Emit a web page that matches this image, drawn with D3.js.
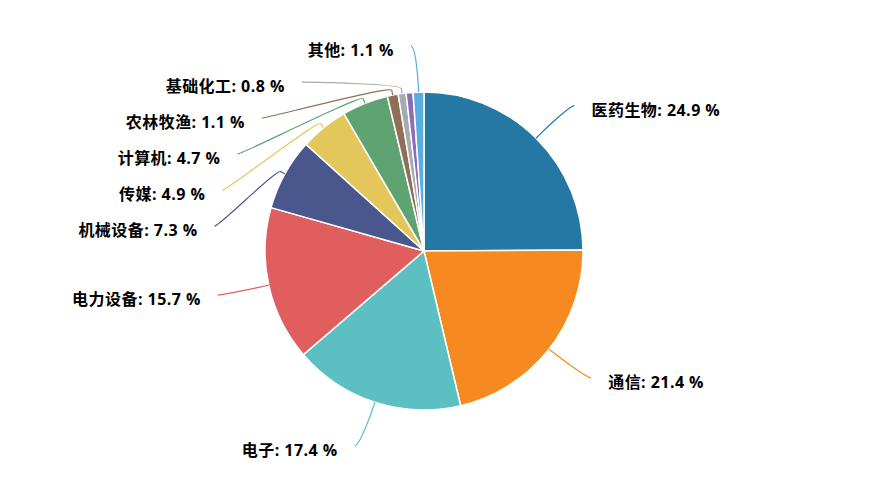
<!DOCTYPE html>
<html>
<head>
<meta charset="utf-8">
<script src="https://cdn.jsdelivr.net/npm/d3@7"></script>
<style>
  html, body { margin: 0; padding: 0; background: #fff; }
  svg { display: block; }
</style>
</head>
<body>
<svg id="chart" width="885" height="480"></svg>
<script>
// ---- data ----
const categories = ["医药生物", "通信", "电子", "电力设备", "机械设备", "传媒", "计算机", "农林牧渔", "基础化工", "未标注", "其他"];
const values     = [24.9, 21.4, 17.4, 15.7, 7.3, 4.9, 4.7, 1.1, 0.8, 0.7, 1.1];
const colors     = ["#2577a4", "#f6891f", "#5cbfc1", "#e05e5e", "#4a578c", "#e4c75a", "#5fa372", "#8f6f55", "#a5abb3", "#8e6bb5", "#58aee0"];
const minLabelPct = 0.75;   // smaller slices get no label

// ---- layout ----
const W = 885, H = 480;
const cx = 424, cy = 251, radius = 159;
const labelR = 205;       // radius where labels sit
const pad = 6;            // horizontal offset of connector end
const textGap = 17;       // gap between connector end and text
const slot = 36;          // vertical spacing of labels

const svg = d3.select("#chart");
const g = svg.append("g").attr("transform", `translate(${cx},${cy})`);

const data = categories.map((c, i) => ({ name: c, value: values[i], color: colors[i] }));
const total = d3.sum(values);
const pie = d3.pie().value(d => d.value).sort(null);
const arcs = pie(data);
const arc = d3.arc().innerRadius(0).outerRadius(radius);

g.selectAll("path.slice").data(arcs).enter().append("path")
  .attr("class", "slice")
  .attr("d", arc)
  .attr("fill", d => d.data.color)
  .attr("stroke", "#fff")
  .attr("stroke-width", 1.5)
  .attr("stroke-linejoin", "round");

// label positions
const pct = v => v / total * 100;
const labels = arcs.filter(a => pct(a.data.value) >= minLabelPct).map(a => {
  const mid = (a.startAngle + a.endAngle) / 2;
  const s = Math.sin(mid), c = Math.cos(mid);
  return {
    a, mid, s, c,
    left: s < 0,
    ny: -labelR * c
  };
});

function distribute(list) {
  list.sort((p, q) => p.ny - q.ny);
  const top = -labelR, bottom = labelR;
  let last = -Infinity;
  list.forEach(l => { l.y = Math.max(l.ny, last + slot, top); last = l.y; });
  let lim = bottom;
  for (let i = list.length - 1; i >= 0; i--) {
    if (list[i].y > lim) list[i].y = lim;
    lim = list[i].y - slot;
  }
}
distribute(labels.filter(l => l.left));
distribute(labels.filter(l => !l.left));

labels.forEach(l => {
  const dir = l.left ? -1 : 1;
  const dx = Math.sqrt(Math.max(0, labelR * labelR - l.y * l.y));
  l.x = dir * (dx + pad);
  l.dir = dir;
  const touch = [radius * l.s, -radius * l.c];
  const brk = [(radius + 5) * l.s, -(radius + 5) * l.c];
  const c2 = [(radius + 10) * l.s, -(radius + 10) * l.c];
  const c1 = [l.x - dir * 5, l.y];
  l.path = `M${l.x},${l.y}C${c1[0]},${c1[1]} ${c2[0]},${c2[1]} ${brk[0]},${brk[1]}L${touch[0]},${touch[1]}`;
});

g.selectAll("path.conn").data(labels).enter().append("path")
  .attr("class", "conn")
  .attr("d", l => l.path)
  .attr("fill", "none")
  .attr("stroke", l => l.a.data.color)
  .attr("stroke-width", 1.2);

g.selectAll("text.lbl").data(labels).enter().append("text")
  .attr("class", "lbl")
  .attr("x", l => l.x + l.dir * textGap)
  .attr("y", l => l.y + 4)
  .attr("dominant-baseline", "central")
  .attr("text-anchor", l => l.left ? "end" : "start")
  .attr("font-family", "'Open Sans', 'Noto Sans CJK SC', sans-serif")
  .attr("font-size", 16)
  .attr("font-weight", "bold")
  .attr("letter-spacing", 0.45)
  .attr("fill", "#000")
  .text(l => `${l.a.data.name}: ${d3.format(".1f")(l.a.data.value)} %`);
</script>
</body>
</html>
